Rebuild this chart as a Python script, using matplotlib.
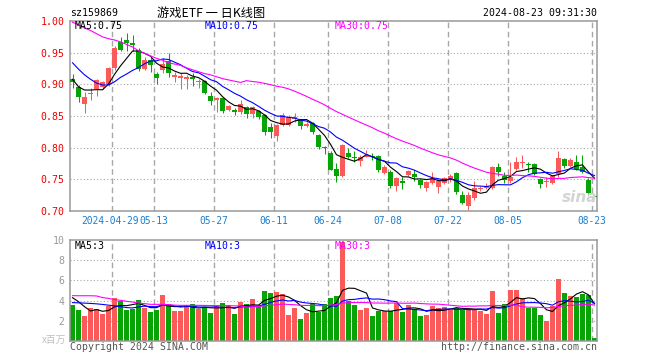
import numpy as np
import pandas as pd
import matplotlib
matplotlib.use('Agg')
import matplotlib.pyplot as plt

# daily K data, 2024-04-18 .. 2024-08-23 (88 trading days)
opens = [0.908, 0.896, 0.869, 0.885, 0.892, 0.896, 0.900, 0.926, 0.967, 0.970,
         0.966, 0.954, 0.925, 0.938, 0.916, 0.922, 0.937, 0.912, 0.910, 0.908,
         0.911, 0.904, 0.906, 0.882, 0.876, 0.878, 0.860, 0.859, 0.857, 0.864,
         0.853, 0.858, 0.851, 0.833, 0.818, 0.836, 0.836, 0.846, 0.845, 0.834,
         0.839, 0.820, 0.800, 0.792, 0.767, 0.755, 0.792, 0.785, 0.779, 0.786,
         0.787, 0.787, 0.760, 0.762, 0.739, 0.746, 0.757, 0.759, 0.749, 0.737,
         0.744, 0.738, 0.745, 0.750, 0.760, 0.725, 0.708, 0.721, 0.734, 0.737,
         0.737, 0.769, 0.755, 0.747, 0.767, 0.776, 0.774, 0.774, 0.751, 0.746,
         0.745, 0.758, 0.782, 0.771, 0.778, 0.770, 0.749, 0.724]
closes = [0.904, 0.880, 0.880, 0.887, 0.907, 0.903, 0.925, 0.957, 0.954, 0.965,
          0.962, 0.925, 0.939, 0.931, 0.910, 0.932, 0.918, 0.914, 0.913, 0.911,
          0.909, 0.906, 0.886, 0.874, 0.879, 0.858, 0.865, 0.857, 0.869, 0.853,
          0.864, 0.848, 0.825, 0.825, 0.836, 0.852, 0.849, 0.848, 0.835, 0.838,
          0.824, 0.801, 0.799, 0.765, 0.755, 0.804, 0.785, 0.784, 0.786, 0.787,
          0.786, 0.764, 0.770, 0.739, 0.752, 0.745, 0.763, 0.753, 0.741, 0.746,
          0.752, 0.748, 0.752, 0.755, 0.730, 0.712, 0.725, 0.736, 0.737, 0.739,
          0.770, 0.761, 0.749, 0.754, 0.778, 0.777, 0.773, 0.759, 0.743, 0.747,
          0.755, 0.784, 0.771, 0.780, 0.767, 0.762, 0.728, 0.722]
highs = [0.917, 0.899, 0.888, 0.894, 0.909, 0.906, 0.928, 0.960, 0.975, 0.981,
         0.978, 0.957, 0.943, 0.943, 0.920, 0.941, 0.949, 0.920, 0.918, 0.914,
         0.918, 0.908, 0.907, 0.888, 0.880, 0.880, 0.868, 0.862, 0.875, 0.866,
         0.866, 0.860, 0.853, 0.839, 0.838, 0.854, 0.852, 0.854, 0.846, 0.840,
         0.841, 0.822, 0.802, 0.795, 0.775, 0.806, 0.800, 0.794, 0.788, 0.796,
         0.792, 0.789, 0.772, 0.764, 0.753, 0.753, 0.765, 0.764, 0.750, 0.747,
         0.761, 0.750, 0.754, 0.758, 0.762, 0.732, 0.730, 0.747, 0.740, 0.745,
         0.771, 0.776, 0.762, 0.777, 0.786, 0.788, 0.777, 0.775, 0.752, 0.753,
         0.757, 0.794, 0.784, 0.783, 0.788, 0.788, 0.752, 0.726]
lows = [0.894, 0.872, 0.855, 0.875, 0.882, 0.893, 0.897, 0.922, 0.952, 0.952,
        0.952, 0.921, 0.922, 0.920, 0.900, 0.918, 0.912, 0.904, 0.893, 0.892,
        0.898, 0.895, 0.884, 0.868, 0.856, 0.854, 0.858, 0.852, 0.853, 0.847,
        0.847, 0.845, 0.820, 0.816, 0.810, 0.834, 0.834, 0.840, 0.829, 0.832,
        0.822, 0.798, 0.790, 0.764, 0.746, 0.754, 0.784, 0.778, 0.771, 0.785,
        0.780, 0.762, 0.758, 0.736, 0.731, 0.735, 0.755, 0.748, 0.736, 0.732,
        0.742, 0.729, 0.742, 0.746, 0.727, 0.711, 0.702, 0.718, 0.732, 0.735,
        0.735, 0.756, 0.745, 0.745, 0.765, 0.768, 0.762, 0.757, 0.736, 0.738,
        0.743, 0.753, 0.768, 0.769, 0.764, 0.760, 0.726, 0.720]
# volume, millions
volumes = [3.56, 3.07, 2.50, 3.30, 3.17, 2.67, 3.47, 4.29, 3.99, 3.07,
           3.20, 4.06, 3.30, 2.87, 3.07, 4.55, 3.56, 2.97, 2.97, 3.53,
           3.66, 3.20, 3.30, 2.77, 3.43, 3.76, 3.56, 2.67, 3.86, 3.66,
           4.16, 3.43, 4.95, 4.78, 4.85, 4.65, 2.57, 3.30, 2.18, 2.77,
           3.66, 2.87, 3.66, 4.26, 4.46, 9.83, 3.96, 3.56, 3.07, 3.30,
           2.48, 3.00, 3.00, 2.97, 3.80, 2.87, 3.60, 3.17, 2.48, 2.60,
           3.47, 3.30, 3.40, 3.04, 3.30, 3.07, 3.20, 3.20, 3.00, 2.67,
           4.95, 2.77, 3.66, 5.05, 5.05, 4.29, 3.30, 3.30, 2.57, 2.00,
           3.47, 6.17, 4.75, 4.45, 4.40, 4.65, 4.60, 0.30]

# moving-average values before the window is full
ma5_head = [0.908, 0.896, 0.891, 0.891]
ma10_head = [0.934, 0.924, 0.915, 0.908, 0.902, 0.899, 0.899, 0.904, 0.911]
ma30_head = [0.998, 0.994, 0.989, 0.985, 0.980, 0.975, 0.972, 0.970, 0.967, 0.963,
             0.959, 0.953, 0.949, 0.945, 0.941, 0.938, 0.934, 0.932, 0.930, 0.926,
             0.923, 0.920, 0.917, 0.915, 0.912, 0.909, 0.907, 0.905, 0.903]
vma5_head = [4.29, 3.89, 3.40, 2.97]
vma10_head = [3.80, 3.78, 3.75, 3.72, 3.68, 3.62, 3.55, 3.48, 3.40]
vma30_head = [4.49, 4.48, 4.48, 4.48, 4.46, 4.30, 4.22, 4.10, 4.03, 3.93,
              3.86, 3.76, 3.70, 3.63, 3.63, 3.63, 3.60, 3.55, 3.53, 3.53,
              3.53, 3.53, 3.52, 3.51, 3.50, 3.50, 3.49, 3.48, 3.47]

tick_pos = [7, 14, 24, 34, 43, 53, 63, 73, 87]
tick_labels = ['2024-04-29', '05-13', '05-27', '06-11', '06-24',
               '07-08', '07-22', '08-05', '08-23']

RED = '#fa5a5a'
GREEN = '#07a307'
GRID = '#a8a8a8'
MONO = 'DejaVu Sans Mono'


def moving_avg(values, n, head):
    s = pd.Series(values).rolling(n).mean().to_numpy()
    s[:len(head)] = head
    return s


def px(x, y):
    return x / 660, 1 - y / 360


def style_axes(ax):
    for sp in ax.spines.values():
        sp.set_color('#999999')
        sp.set_linewidth(1.1)
    ax.tick_params(length=0, pad=4)
    ax.set_xticks([])
    for p in tick_pos:
        ax.axvline(p - 0.4, color=GRID, lw=1.0, dashes=(4, 2.6), zorder=0)


def main():
    n = len(closes)
    x = np.arange(n)
    o = np.array(opens)
    c = np.array(closes)
    up = c >= o
    colors = [RED if u else GREEN for u in up]

    fig = plt.figure(figsize=(6.6, 3.6), dpi=100)

    # price panel
    ax = fig.add_axes([70 / 660, 1 - 211 / 360, 527 / 660, 190 / 360])
    style_axes(ax)
    ax.set_xlim(-0.42, 87.42)
    ax.set_ylim(0.70, 1.00)
    ax.set_yticks([0.70, 0.75, 0.80, 0.85, 0.90, 0.95, 1.00])
    ax.set_yticklabels(['%.2f' % v for v in ax.get_yticks()], color='#ee0000',
                       family=MONO, fontsize=7.1)
    for v in [0.75, 0.80, 0.85, 0.90, 0.95]:
        ax.axhline(v, color=GRID, lw=0.8, ls=(0, (1, 2)), zorder=0)

    ax.vlines(x, lows, highs, colors=colors, lw=0.75, zorder=2)
    body = np.maximum(np.abs(c - o), 0.0016)
    ax.bar(x, body, bottom=np.minimum(o, c), width=0.8, color=colors, zorder=3)

    ax.plot(x, moving_avg(closes, 5, ma5_head), color='black', lw=0.8, zorder=4)
    ax.plot(x, moving_avg(closes, 10, ma10_head), color='#0000ff', lw=0.8, zorder=4)
    ax.plot(x, moving_avg(closes, 30, ma30_head), color='#ff00ff', lw=0.8, zorder=4)

    for k, (lbl, pos) in enumerate(zip(tick_labels, tick_pos)):
        gx = 72.5 + 6 * (pos - 0.4)
        if k == 0:
            gx -= 2.5   # long first label sits a little left of its line
        fig.text(*px(gx, 221), lbl, ha='center', va='center',
                 color='#1a7fd0', family=MONO, fontsize=6.95)

    # volume panel
    axv = fig.add_axes([70 / 660, 1 - 341 / 360, 527 / 660, 101 / 360])
    style_axes(axv)
    axv.set_xlim(-0.42, 87.42)
    axv.set_ylim(0, 10)
    axv.set_yticks([2, 4, 6, 8, 10])
    axv.set_yticklabels(['2', '4', '6', '8', '10'], color='#999999',
                        family=MONO, fontsize=7.1)
    for v in [2, 4, 6, 8]:
        axv.axhline(v, color=GRID, lw=0.8, ls=(0, (1, 2)), zorder=0)
    axv.bar(x, volumes, width=0.8, color=colors, zorder=2)
    axv.plot(x, moving_avg(volumes, 5, vma5_head), color='black', lw=0.8, zorder=3)
    axv.plot(x, moving_avg(volumes, 10, vma10_head), color='#0000ff', lw=0.8, zorder=3)
    axv.plot(x, moving_avg(volumes, 30, vma30_head), color='#ff00ff', lw=0.8, zorder=3)

    # texts
    fig.text(*px(70, 13), 'sz159869', ha='left', va='center', family=MONO,
             fontsize=7.1, color='black')
    fig.text(*px(211, 13), '游戏ETF 一 日K线图', ha='center', va='center',
             family=['Noto Sans CJK SC', 'DejaVu Sans'], fontsize=8.8, color='black')
    fig.text(*px(597, 13), '2024-08-23 09:31:30', ha='right', va='center',
             family=MONO, fontsize=7.1, color='black')

    fig.text(*px(75, 26), 'MA5:0.75', va='center', family=MONO, fontsize=7.1, color='black')
    fig.text(*px(205, 26), 'MA10:0.75', va='center', family=MONO, fontsize=7.1, color='#0000ff')
    fig.text(*px(335, 26), 'MA30:0.75', va='center', family=MONO, fontsize=7.1, color='#ff00ff')
    fig.text(*px(75, 246), 'MA5:3', va='center', family=MONO, fontsize=7.1, color='black')
    fig.text(*px(205, 246), 'MA10:3', va='center', family=MONO, fontsize=7.1, color='#0000ff')
    fig.text(*px(335, 246), 'MA30:3', va='center', family=MONO, fontsize=7.1, color='#ff00ff')

    fig.text(*px(66, 340), 'x百万', ha='right', va='center',
             family=['Noto Sans CJK SC', 'DejaVu Sans'], fontsize=7, color='#c0c0c0')
    fig.text(*px(70, 347), 'Copyright 2024 SINA.COM', ha='left', va='center',
             family=MONO, fontsize=7.1, color='#555555')
    fig.text(*px(597, 347), 'http://finance.sina.com.cn', ha='right', va='center',
             family=MONO, fontsize=7.1, color='#555555')
    fig.text(*px(580, 197), 'sina', ha='center', va='center', fontsize=11,
             fontweight='bold', style='italic', color='#d4d4d4', zorder=1)

    fig.savefig('out.png', dpi=100, facecolor='white')


if __name__ == '__main__':
    main()
